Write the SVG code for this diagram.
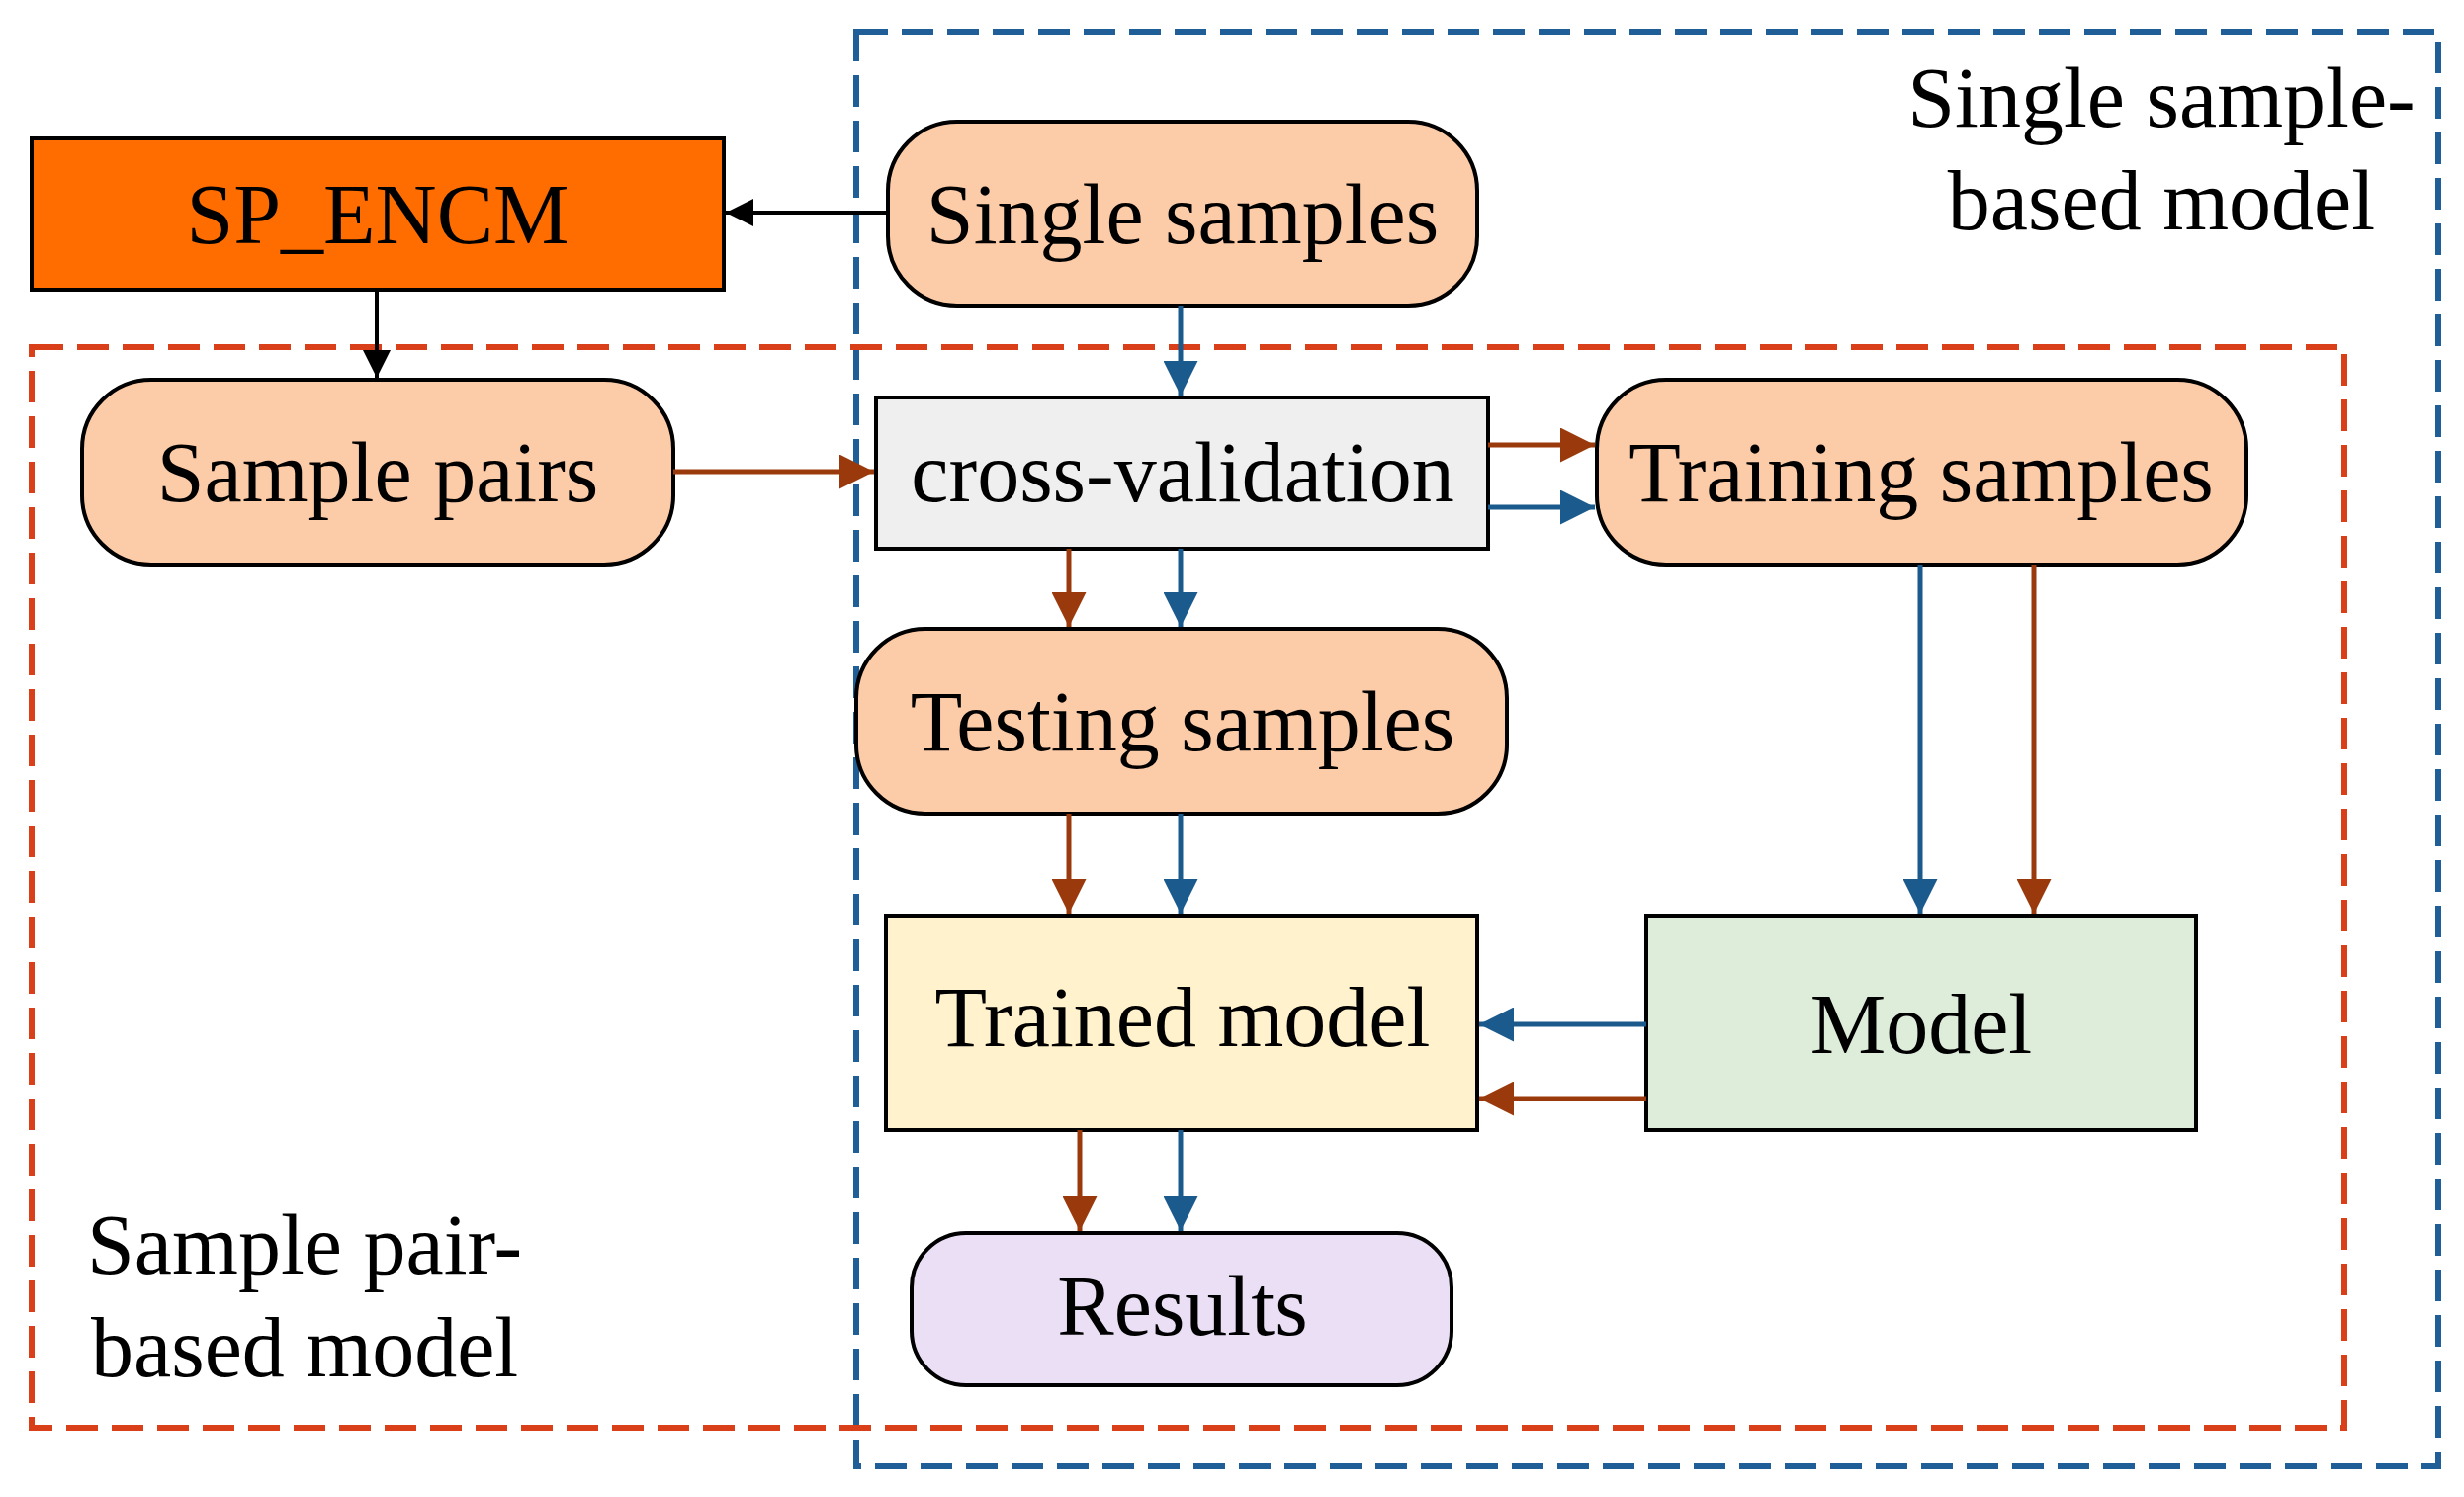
<svg xmlns="http://www.w3.org/2000/svg" width="2492" height="1514" viewBox="0 0 2492 1514">
<defs>
<style>
text{font-family:"Liberation Serif","Times New Roman",serif;font-size:86px;fill:#000;text-anchor:middle}
.n{stroke:#000;stroke-width:4}
.bl{stroke:#1B5A8C;stroke-width:5;fill:none}
.br{stroke:#9A3A0C;stroke-width:5;fill:none}
.bk{stroke:#000;stroke-width:4;fill:none}
</style>
<marker id="mbl" viewBox="0 0 10 10" refX="10" refY="5" markerWidth="7" markerHeight="7" markerUnits="strokeWidth" orient="auto"><path d="M0,0 L10,5 L0,10z" fill="#1B5A8C"/></marker>
<marker id="mbr" viewBox="0 0 10 10" refX="10" refY="5" markerWidth="7" markerHeight="7" markerUnits="strokeWidth" orient="auto"><path d="M0,0 L10,5 L0,10z" fill="#9A3A0C"/></marker>
<marker id="mbk" viewBox="0 0 10 10" refX="10" refY="5" markerWidth="7" markerHeight="7" markerUnits="strokeWidth" orient="auto"><path d="M0,0 L10,5 L0,10z" fill="#000"/></marker>
</defs>
<rect width="2492" height="1514" fill="#fff"/>
<g id="groups">
<rect x="866" y="32" width="1600" height="1451" fill="none" stroke="#1F5E96" stroke-width="6" stroke-dasharray="32,14"/>
<rect x="32" y="351" width="2339" height="1093" fill="none" stroke="#D9401A" stroke-width="6" stroke-dasharray="32,14"/>
<text x="2186" y="128">Single sample-</text>
<text x="2186" y="232">based model</text>
<text x="88" y="1288" style="text-anchor:start">Sample pair-</text>
<text x="92" y="1392" style="text-anchor:start">based model</text>
</g>
<g id="sp_encm"><rect class="n" x="32" y="140" width="700" height="153" fill="#FF6D00"/><text x="382" y="246">SP_ENCM</text></g>
<g id="single"><rect class="n" x="898" y="123" width="596" height="186" rx="70" fill="#FCCBA8"/><text x="1196" y="246">Single samples</text></g>
<g id="pairs"><rect class="n" x="83" y="384" width="598" height="187" rx="70" fill="#FCCBA8"/><text x="382" y="507">Sample pairs</text></g>
<g id="cv"><rect class="n" x="886" y="402" width="619" height="153" fill="#EFEFEF"/><text x="1196" y="507">cross-validation</text></g>
<g id="training"><rect class="n" x="1615" y="384" width="657" height="187" rx="70" fill="#FCCBA8"/><text x="1943" y="507">Training samples</text></g>
<g id="testing"><rect class="n" x="866" y="636" width="658" height="187" rx="70" fill="#FCCBA8"/><text x="1196" y="759">Testing samples</text></g>
<g id="trained"><rect class="n" x="896" y="926" width="598" height="217" fill="#FFF2CC"/><text x="1196" y="1058">Trained model</text></g>
<g id="model"><rect class="n" x="1665" y="926" width="556" height="217" fill="#DDEDDA"/><text x="1943" y="1065">Model</text></g>
<g id="results"><rect class="n" x="922" y="1247" width="546" height="154" rx="55" fill="#EADFF5"/><text x="1196" y="1350">Results</text></g>
<g id="connectors">
<line class="bk" x1="898" y1="215" x2="734" y2="215" marker-end="url(#mbk)"/>
<line class="bk" x1="381" y1="293" x2="381" y2="382" marker-end="url(#mbk)"/>
<line class="bl" x1="1194" y1="309" x2="1194" y2="400" marker-end="url(#mbl)"/>
<line class="br" x1="681" y1="477" x2="884" y2="477" marker-end="url(#mbr)"/>
<line class="br" x1="1505" y1="450" x2="1613" y2="450" marker-end="url(#mbr)"/>
<line class="bl" x1="1505" y1="513" x2="1613" y2="513" marker-end="url(#mbl)"/>
<line class="br" x1="1081" y1="555" x2="1081" y2="634" marker-end="url(#mbr)"/>
<line class="bl" x1="1194" y1="555" x2="1194" y2="634" marker-end="url(#mbl)"/>
<line class="bl" x1="1942" y1="571" x2="1942" y2="924" marker-end="url(#mbl)"/>
<line class="br" x1="2057" y1="571" x2="2057" y2="924" marker-end="url(#mbr)"/>
<line class="br" x1="1081" y1="823" x2="1081" y2="924" marker-end="url(#mbr)"/>
<line class="bl" x1="1194" y1="823" x2="1194" y2="924" marker-end="url(#mbl)"/>
<line class="bl" x1="1665" y1="1036" x2="1496" y2="1036" marker-end="url(#mbl)"/>
<line class="br" x1="1665" y1="1111" x2="1496" y2="1111" marker-end="url(#mbr)"/>
<line class="br" x1="1092" y1="1143" x2="1092" y2="1245" marker-end="url(#mbr)"/>
<line class="bl" x1="1194" y1="1143" x2="1194" y2="1245" marker-end="url(#mbl)"/>
</g>
</svg>
